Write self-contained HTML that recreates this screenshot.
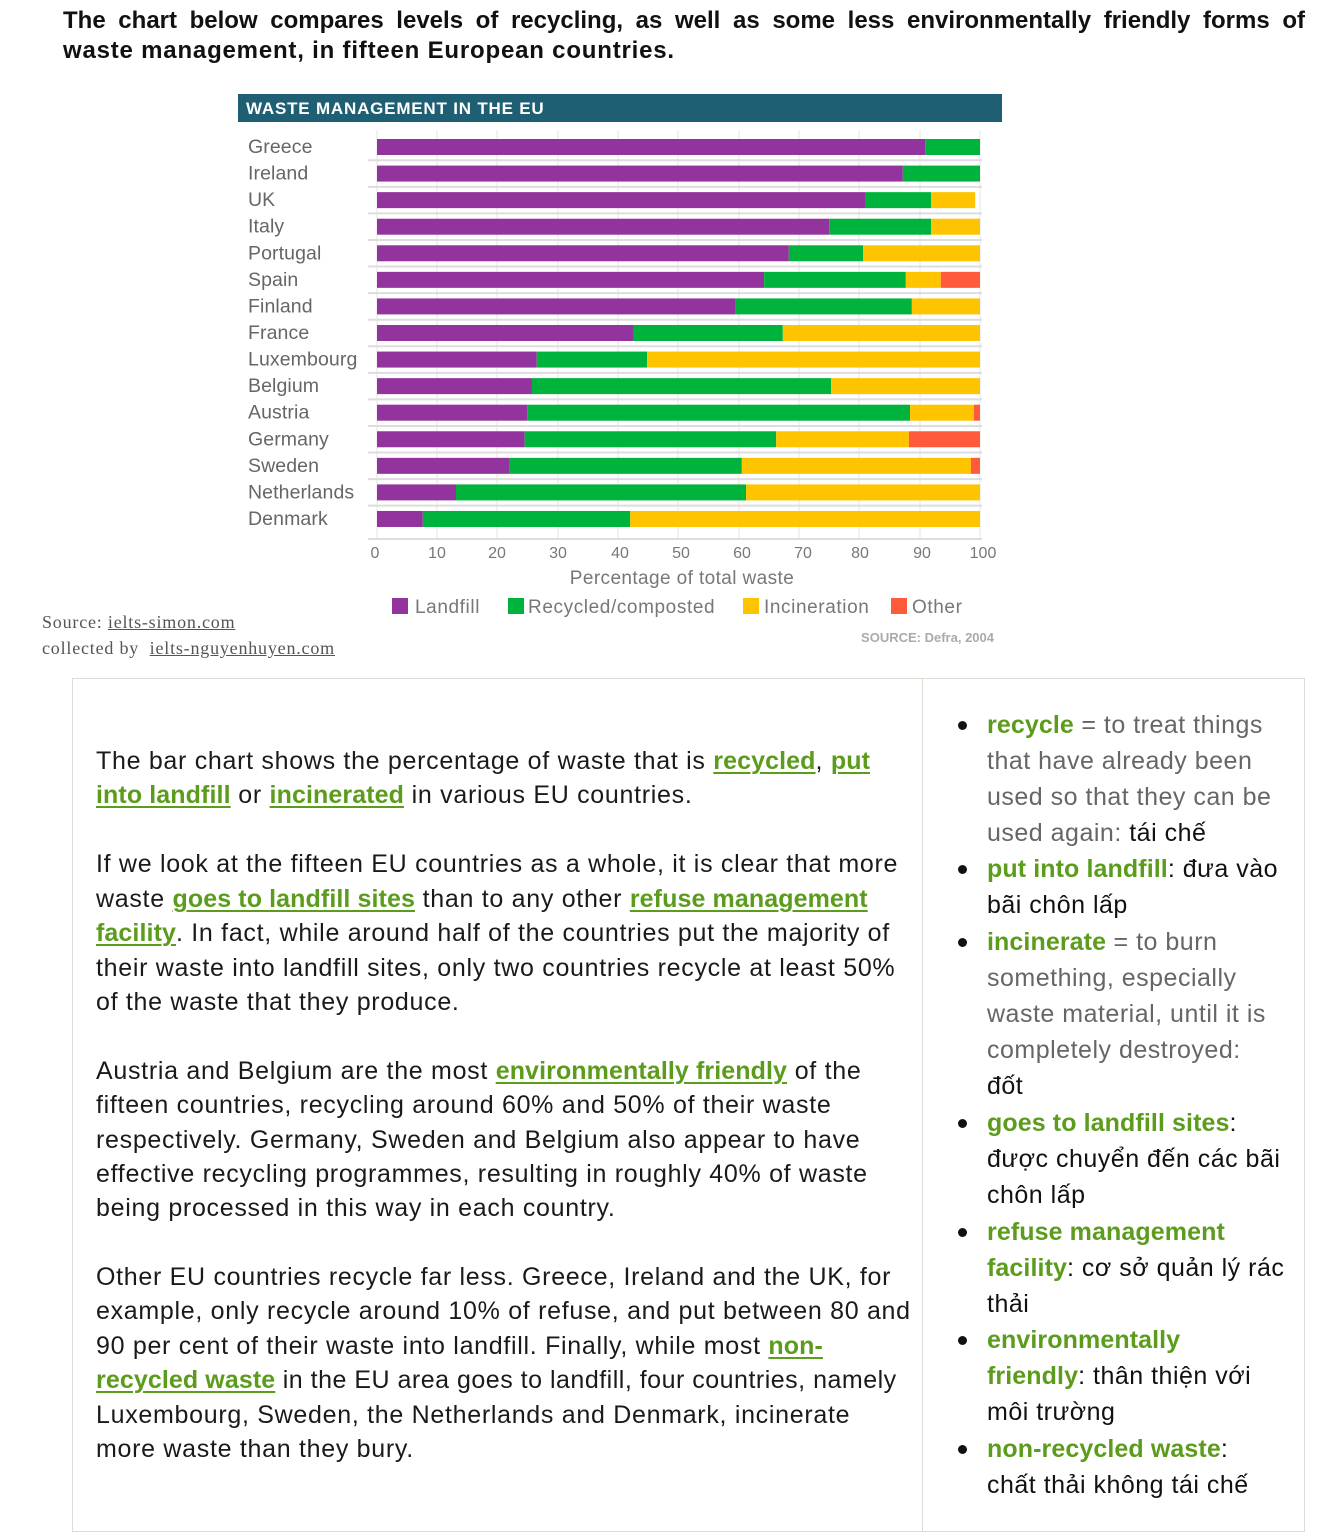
<!DOCTYPE html>
<html><head><meta charset="utf-8"><style>
body{margin:0;width:1340px;height:1536px;background:#fff;position:relative;overflow:hidden;font-family:"Liberation Sans","Noto Sans CJK SC",sans-serif;}
.a{position:absolute;white-space:nowrap;}
.h{font-weight:bold;font-size:24px;color:#111;line-height:30px;letter-spacing:0.8px;}
.p{font-size:25px;color:#1a1a1a;line-height:28px;left:96px;letter-spacing:0.7px;}
.r{font-size:25px;color:#666;line-height:28px;left:987px;letter-spacing:0.5px;}
.g{color:#5c9c1c;font-weight:bold;letter-spacing:0.1px;}
.u{text-decoration:underline;text-decoration-thickness:2px;text-underline-offset:3px;}
.k{color:#111;}
.b{position:absolute;left:958px;width:9px;height:9px;border-radius:50%;background:#111;}
.src{font-family:"Liberation Serif",serif;font-size:18px;color:#555;letter-spacing:0.8px;}
.src span{text-decoration:underline;}
</style></head><body>
<div class="a h" style="left:63px;top:6px;width:1242px;text-align:justify;text-align-last:justify;letter-spacing:0;">The chart below compares levels of recycling, as well as some less environmentally friendly forms of</div>
<div class="a h" style="left:63px;top:36px;">waste management, in fifteen European countries.</div>

<svg class="a" style="left:0;top:0" width="1340" height="670" font-family="Liberation Sans, sans-serif">
<rect x="238" y="94" width="764" height="28" fill="#1e5f74"/>
<text x="246" y="114" fill="#fff" font-size="17" font-weight="bold" letter-spacing="0.8">WASTE MANAGEMENT IN THE EU</text>
<g stroke="#e4e4e4" stroke-width="1">
<line x1="377" y1="130" x2="377" y2="540"/><line x1="437" y1="130" x2="437" y2="540"/><line x1="497" y1="130" x2="497" y2="540"/><line x1="558" y1="130" x2="558" y2="540"/><line x1="618" y1="130" x2="618" y2="540"/><line x1="678" y1="130" x2="678" y2="540"/><line x1="739" y1="130" x2="739" y2="540"/><line x1="799" y1="130" x2="799" y2="540"/><line x1="859" y1="130" x2="859" y2="540"/><line x1="920" y1="130" x2="920" y2="540"/><line x1="980" y1="130" x2="980" y2="540"/>
</g>
<g stroke="#ddd" stroke-width="2" id="hl"></g>
<g font-size="19.5" fill="#666" id="lab" letter-spacing="0.1"></g>
<g id="bars"></g>
<g font-size="16" fill="#777" text-anchor="middle">
<text x="375" y="558">0</text><text x="437" y="558">10</text><text x="497" y="558">20</text><text x="558" y="558">30</text><text x="620" y="558">40</text><text x="681" y="558">50</text><text x="742" y="558">60</text><text x="803" y="558">70</text><text x="860" y="558">80</text><text x="922" y="558">90</text><text x="983" y="558">100</text>
<text x="682" y="584" font-size="19" letter-spacing="0.4">Percentage of total waste</text>
</g>
<g font-size="19" fill="#777" letter-spacing="0.6">
<rect x="392" y="598" width="16" height="16" fill="#93339e"/><text x="415" y="613">Landfill</text>
<rect x="508" y="598" width="16" height="16" fill="#00b33c"/><text x="528" y="613">Recycled/composted</text>
<rect x="743" y="598" width="16" height="16" fill="#ffc400"/><text x="764" y="613">Incineration</text>
<rect x="891" y="598" width="16" height="16" fill="#ff5a3c"/><text x="912" y="613">Other</text>
</g>
<text x="994" y="642" font-size="13" font-weight="bold" fill="#aaa" text-anchor="end">SOURCE: Defra, 2004</text>
</svg>
<script>
var d=[["Greece",90.9,9.1,0,0],["Ireland",87.2,12.8,0,0],["UK",81,10.9,7.3,0],["Italy",75,16.9,8.1,0],["Portugal",68.3,12.3,19.4,0],["Spain",64.2,23.5,5.8,6.5],["Finland",59.5,29.2,11.3,0],["France",42.6,24.7,32.7,0],["Luxembourg",26.5,18.3,55.2,0],["Belgium",25.7,49.6,24.7,0],["Austria",24.9,63.5,10.6,1],["Germany",24.5,41.7,22,11.8],["Sweden",22,38.5,38,1.5],["Netherlands",13.1,48.1,38.8,0],["Denmark",7.6,34.4,58,0]];
var c=["#93339e","#00b33c","#ffc400","#ff5a3c"],ns="http://www.w3.org/2000/svg";
var B=document.getElementById("bars"),L=document.getElementById("lab"),H=document.getElementById("hl");
d.forEach(function(r,i){var cy=147+i*26.57,x=377;
 var t=document.createElementNS(ns,"text");t.setAttribute("x",248);t.setAttribute("y",cy+6);t.textContent=r[0];L.appendChild(t);
 if(i>0){var l=document.createElementNS(ns,"line");l.setAttribute("x1",368);l.setAttribute("x2",982);l.setAttribute("y1",cy-13.3);l.setAttribute("y2",cy-13.3);H.appendChild(l);}
 for(var j=0;j<4;j++){if(!r[j+1])continue;var w=r[j+1]*6.03;var q=document.createElementNS(ns,"rect");q.setAttribute("x",x);q.setAttribute("y",cy-8);q.setAttribute("width",w);q.setAttribute("height",16);q.setAttribute("fill",c[j]);B.appendChild(q);x+=w;}
});
var l=document.createElementNS(ns,"line");l.setAttribute("x1",368);l.setAttribute("x2",982);l.setAttribute("y1",539);l.setAttribute("y2",539);H.appendChild(l);
</script>

<div class="a src" style="left:42px;top:612px;">Source: <span>ielts-simon.com</span></div>
<div class="a src" style="left:42px;top:638px;">collected by &nbsp;<span>ielts-nguyenhuyen.com</span></div>

<div class="a" style="left:72px;top:678px;width:1231px;height:852px;border:1px solid #dcdcd4;"></div>
<div class="a" style="left:922px;top:678px;width:1px;height:853px;background:#dcdcd4;"></div>

<div class="a p" style="top:747px">The bar chart shows the percentage of waste that is <span class="g u">recycled</span>, <span class="g u">put</span></div>
<div class="a p" style="top:781px"><span class="g u">into landfill</span> or <span class="g u">incinerated</span> in various EU countries.</div>
<div class="a p" style="top:850px">If we look at the fifteen EU countries as a whole, it is clear that more</div>
<div class="a p" style="top:885px">waste <span class="g u">goes to landfill sites</span> than to any other <span class="g u">refuse management</span></div>
<div class="a p" style="top:919px"><span class="g u">facility</span>. In fact, while around half of the countries put the majority of</div>
<div class="a p" style="top:954px">their waste into landfill sites, only two countries recycle at least 50%</div>
<div class="a p" style="top:988px">of the waste that they produce.</div>
<div class="a p" style="top:1057px">Austria and Belgium are the most <span class="g u">environmentally friendly</span> of the</div>
<div class="a p" style="top:1091px">fifteen countries, recycling around 60% and 50% of their waste</div>
<div class="a p" style="top:1126px">respectively. Germany, Sweden and Belgium also appear to have</div>
<div class="a p" style="top:1160px">effective recycling programmes, resulting in roughly 40% of waste</div>
<div class="a p" style="top:1194px">being processed in this way in each country.</div>
<div class="a p" style="top:1263px">Other EU countries recycle far less. Greece, Ireland and the UK, for</div>
<div class="a p" style="top:1297px">example, only recycle around 10% of refuse, and put between 80 and</div>
<div class="a p" style="top:1332px">90 per cent of their waste into landfill. Finally, while most <span class="g u">non-</span></div>
<div class="a p" style="top:1366px;letter-spacing:0.5px"><span class="g u">recycled waste</span> in the EU area goes to landfill, four countries, namely</div>
<div class="a p" style="top:1401px">Luxembourg, Sweden, the Netherlands and Denmark, incinerate</div>
<div class="a p" style="top:1435px">more waste than they bury.</div>

<div class="b" style="top:721px"></div><div class="b" style="top:865px"></div><div class="b" style="top:938px"></div><div class="b" style="top:1119px"></div><div class="b" style="top:1228px"></div><div class="b" style="top:1336px"></div><div class="b" style="top:1445px"></div>
<div class="a r" style="top:711px"><span class="g">recycle</span> = to treat things</div>
<div class="a r" style="top:747px">that have already been</div>
<div class="a r" style="top:783px">used so that they can be</div>
<div class="a r" style="top:819px">used again: <span class="k">tái chế</span></div>
<div class="a r k" style="top:855px"><span class="g">put into landfill</span>: đưa vào</div>
<div class="a r k" style="top:891px">bãi chôn lấp</div>
<div class="a r" style="top:928px"><span class="g">incinerate</span> = to burn</div>
<div class="a r" style="top:964px">something, especially</div>
<div class="a r" style="top:1000px">waste material, until it is</div>
<div class="a r" style="top:1036px">completely destroyed:</div>
<div class="a r k" style="top:1072px">đốt</div>
<div class="a r k" style="top:1109px"><span class="g">goes to landfill sites</span>:</div>
<div class="a r k" style="top:1145px">được chuyển đến các bãi</div>
<div class="a r k" style="top:1181px">chôn lấp</div>
<div class="a r k" style="top:1218px"><span class="g">refuse management</span></div>
<div class="a r k" style="top:1254px"><span class="g">facility</span>: cơ sở quản lý rác</div>
<div class="a r k" style="top:1290px">thải</div>
<div class="a r k" style="top:1326px"><span class="g">environmentally</span></div>
<div class="a r k" style="top:1362px"><span class="g">friendly</span>: thân thiện với</div>
<div class="a r k" style="top:1398px">môi trường</div>
<div class="a r k" style="top:1435px"><span class="g">non-recycled waste</span>:</div>
<div class="a r k" style="top:1471px">chất thải không tái chế</div>
</body></html>
